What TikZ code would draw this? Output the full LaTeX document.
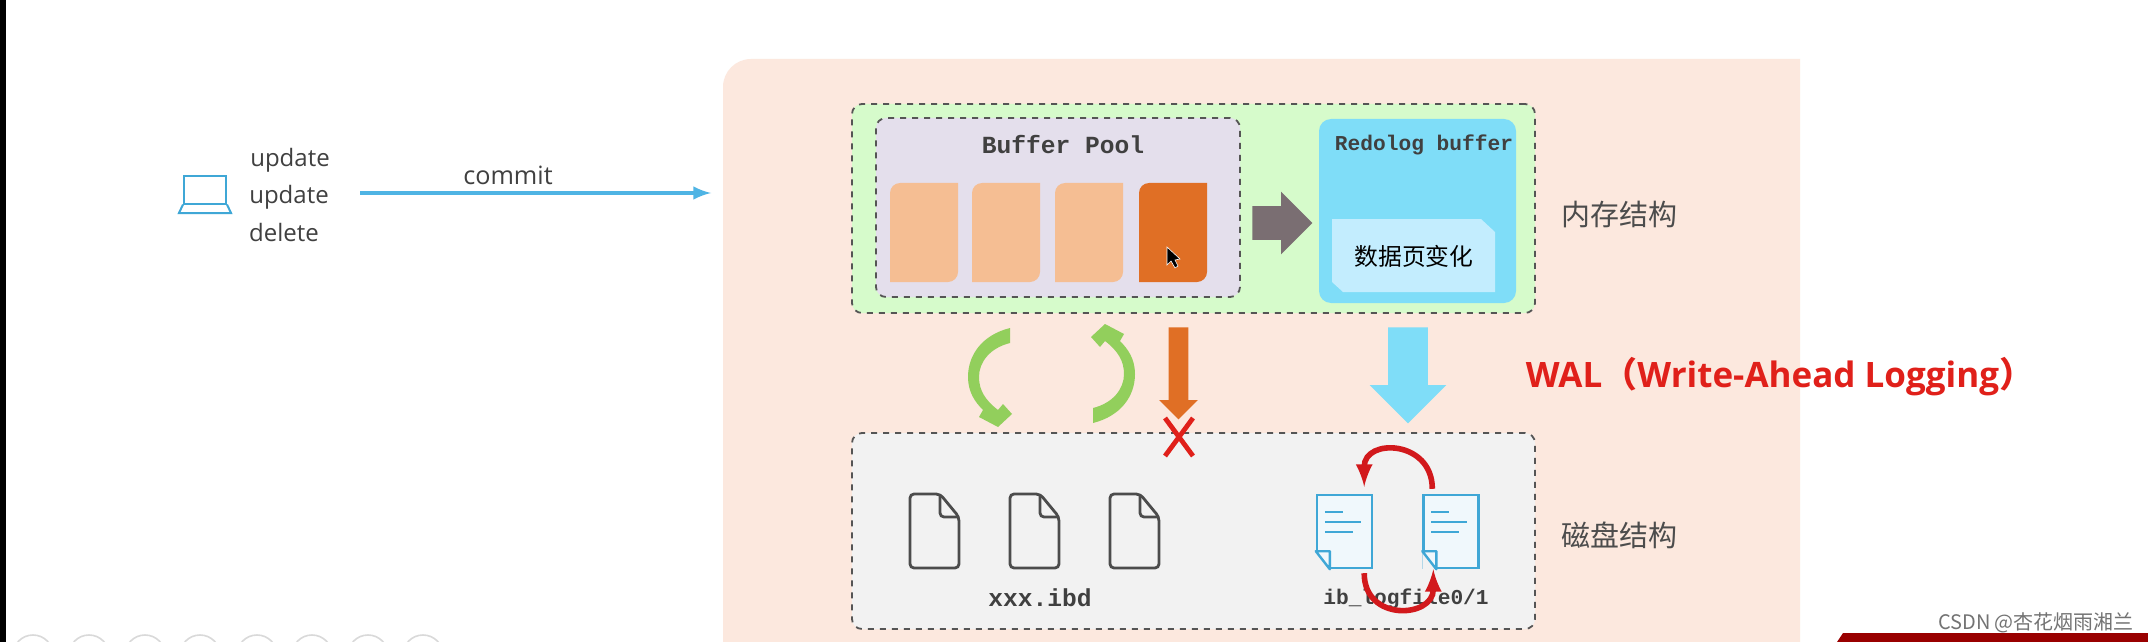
\documentclass[tikz,border=0pt]{standalone}
\usepackage{fontspec}
\setmainfont{Open Sans}
\setmonofont{Liberation Mono}
\newfontfamily\cjk{Noto Sans CJK SC}
\usetikzlibrary{shapes.arrows}
\definecolor{peach}{HTML}{FCE8DE}
\definecolor{memgreen}{HTML}{D6FBCB}
\definecolor{poolgray}{HTML}{E4DFEC}
\definecolor{pagelight}{HTML}{F5BE93}
\definecolor{pagehot}{HTML}{E06F25}
\definecolor{skyblue}{HTML}{7FDDF8}
\definecolor{notefill}{HTML}{C3EDFE}
\definecolor{diskgray}{HTML}{F2F2F2}
\definecolor{dashline}{HTML}{555555}
\definecolor{linkblue}{HTML}{4FB4E4}
\definecolor{iconblue}{HTML}{3FA7D6}
\definecolor{walred}{HTML}{E0201A}
\definecolor{loopred}{HTML}{D2191C}
\definecolor{leafgreen}{HTML}{92CF5C}
\definecolor{arrowgray}{HTML}{7A6E72}
\begin{document}
\begin{tikzpicture}[x=0.5pt,y=-0.5pt,dashbox/.style={draw=dashline,dashed,line width=0.9pt,rounded corners=5pt}]
	\tikzstyle{blockarrow}=[single arrow,inner xsep=0pt,anchor=tip,single arrow head indent=0pt]
	\tikzstyle{optext}=[inner sep=0pt,text=black!75,font=\fontsize{12}{14}\selectfont]
	\tikzstyle{sidetext}=[inner sep=0pt,text=black!70,font=\cjk\fontsize{14.5}{16}\selectfont]
	\tikzstyle{monotext}=[inner sep=0pt,text=black!75,font=\ttfamily\bfseries]
	\tikzstyle{fileline}=[draw=black!70,line width=1.4pt,rounded corners=2pt]
	\tikzstyle{logdoc}=[draw=iconblue,fill=iconblue!8,line width=1.2pt,minimum width=27.5pt,minimum height=36.5pt,inner sep=0pt]
	\tikzstyle{redloop}=[draw=loopred,line width=2.8pt,-latex]
	\clip (0,0) rectangle (2148,642);
	\fill[white] (0,0) rectangle (2148,642);
	\fill[black] (0,0) rectangle (6,642);
	\fill[peach] (723,700) [rounded corners=14pt] -- (723,59) [sharp corners] -- (1800,59) -- (1800,700) -- cycle;
	\foreach \x in {33,89,145,200,257,312,368,423}
	{\draw[black!15,line width=0.8pt] (\x,655) circle (10pt);}
	
	\node[draw=iconblue,line width=1pt,minimum width=21pt,minimum height=13.5pt,inner sep=0pt] (screen) at (205,190){};
	\draw[iconblue,line width=1pt] (screen.south west) -- (179,213) -- (231,213) -- (screen.south east);
	\node[optext] (op1) at (290,160){update};
	\node[optext] (op2) at (289,197){update};
	\node[optext] (op3) at (284,233){delete};
	\coordinate (linkstart) at (360,193);
	\coordinate (linkend) at (711,193);
	\draw[linkblue,line width=2pt,-latex] (linkstart) -- (linkend);
	\node[optext,font=\fontsize{12.6}{14}\selectfont] (commit) at (508,175){commit};
	
	\node[dashbox,fill=memgreen,minimum width=341.5pt,minimum height=104.5pt] (membox) at (1193.5,208.5){};
	\node[dashbox,fill=poolgray,minimum width=182pt,minimum height=89.5pt] (poolbox) at (1058,207.5){};
	\node[monotext,font=\ttfamily\bfseries\fontsize{12.3}{14}\selectfont] (poollabel) at (1063,145){Buffer Pool};
	\foreach \x/\c in {890/pagelight,972/pagelight,1055/pagelight,1139/pagehot}
	{\fill[\c] (\x,282) [rounded corners=5pt] -- (\x,183) [sharp corners] -- (\x+68,183) [rounded corners=5pt] -- (\x+68,282) [sharp corners] -- cycle;}
	\filldraw[black,draw=white,line width=0.3pt] (1167,247) -- (1167,265) -- (1171,261) -- (1175,268) -- (1178,266) -- (1175,260) -- (1180,259) -- cycle;
	\node[blockarrow,fill=arrowgray,inner ysep=8.25pt,minimum height=30pt,single arrow head extend=7.25pt] (poolarrow) at (1313,223){};
	\node[fill=skyblue,rounded corners=6pt,minimum width=98.5pt,minimum height=92pt] (redobox) at (1417.5,211){};
	\node[monotext,font=\ttfamily\bfseries\fontsize{10.6}{13}\selectfont] (redolabel) at (1424,145){Redolog buffer};
	\fill[notefill] (1332,219) -- (1481,219) -- (1495,232) -- (1495,292) -- (1343,292) -- (1332,282) -- cycle;
	\node[inner sep=0pt,font=\cjk\fontsize{11.9}{14}\selectfont] (notelabel) at (1414,256){数据页变化};
	\node[sidetext] (memlabel) at (1619,214){内存结构};
	
	\node[dashbox,fill=diskgray,minimum width=341.5pt,minimum height=98pt] (diskbox) at (1193.5,531){};
	\foreach \a in {0,180}
	{\fill[leafgreen,rotate around={\a:(1051.5,375.5)}] (1010,328) .. controls (982,335) and (968,355) .. (968,377) .. controls (968,392) and (975,402) .. (983,410) -- (979,417) -- (998,427) -- (1012,414) -- (1003,404) -- (998,410) .. controls (985,400) and (979,390) .. (979,377) .. controls (979,362) and (990,348) .. (1010,343) -- cycle;}
	\node[blockarrow,fill=pagehot,rotate=-90,inner ysep=4.75pt,minimum height=46pt,single arrow head extend=4.75pt] (hotarrow) at (1178.5,420){};
	\draw[walred,line width=2.4pt] (1165,418) -- (1193,456) (1193,418) -- (1165,456);
	\node[blockarrow,fill=skyblue,rotate=-90,inner ysep=9.75pt,minimum height=48pt,single arrow head extend=9.25pt] (redoarrow) at (1408,424){};
	\node[sidetext] (disklabel) at (1619,535){磁盘结构};
	\node[inner sep=0pt,text=walred,font=\bfseries\fontsize{17.5}{20}\selectfont] (wallabel) at (1780,377){WAL{\cjk （}Write-Ahead Logging{\cjk ）}};
	
	\foreach \x in {910,1010,1110}
	{\draw[fileline] (\x,494) -- (\x+30,494) -- (\x+49,517) -- (\x+49,568) -- (\x,568) -- cycle;
		\draw[fileline] (\x+30,494) -- (\x+30,517) -- (\x+49,517);}
	\node[monotext,font=\ttfamily\bfseries\fontsize{12.3}{14}\selectfont] (ibdlabel) at (1040,598){xxx.ibd};
	
	\node[logdoc] (log0) at (1344.5,531.5){};
	\node[logdoc] (log1) at (1451,531.5){};
	\foreach \d in {log0,log1}
	{\fill[diskgray] (\d.south west) -- ([shift={(0,-18)}]\d.south west) -- ([shift={(14,0)}]\d.south west) -- cycle;
		\draw[iconblue,line width=1.2pt,line join=round] ([shift={(0,-18)}]\d.south west) -- ([shift={(14,0)}]\d.south west) -- ([shift={(14,-18)}]\d.south west) -- cycle;
		\draw[iconblue,line width=1.3pt] ([shift={(9,18)}]\d.north west) -- ++(18,0);
		\draw[iconblue,line width=1.3pt] ([shift={(9,28)}]\d.north west) -- ++(36,0);
		\draw[iconblue,line width=1.3pt] ([shift={(9,38)}]\d.north west) -- ++(28,0);}
	\node[monotext,font=\ttfamily\fontsize{10.6}{13}\bfseries\selectfont] (loglabel) at (1406,599){ib\_logfile0/1};
	\draw[redloop] ([shift={(10,-5)}]log1.north west) .. controls +(0,-49) and +(0,-49) .. ([shift={(-9,-7)}]log0.north east);
	\draw[redloop] ([shift={(-9,4)}]log0.south east) .. controls +(0,49) and +(0,49) .. ([shift={(11,0)}]log1.south west);
	
	\fill[red!60!black] (1843,633) -- (2148,633) -- (2148,642) -- (1837,642) -- cycle;
	\node[inner sep=0pt,text=black!55,font=\cjk\fontsize{10}{12}\selectfont] (watermark) at (2036,623){CSDN @杏花烟雨湘兰};
\end{tikzpicture}
\end{document}
